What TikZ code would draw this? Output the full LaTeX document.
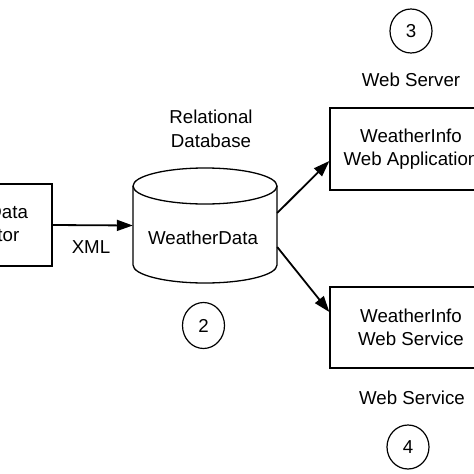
\documentclass[tikz,border=0pt]{standalone}
\usepackage{fontspec}
\setmainfont{Liberation Sans}
\usetikzlibrary{arrows.meta,shapes.geometric,calc}
\begin{document}
\begin{tikzpicture}[x=1pt,y=-1pt,
  every node/.style={font=\fontsize{18.7}{23.5}\selectfont, align=center},
  boxnode/.style={draw, line width=1.3pt, minimum width=162pt, minimum height=82pt, inner sep=0pt},
  numcirc/.style={draw, ellipse, line width=1.2pt, minimum width=42pt, minimum height=44pt, inner sep=0pt},
  conn/.style={line width=1.8pt, -{Triangle[length=16pt,width=11pt]}},
  plain/.style={inner sep=0pt}]
\useasboundingbox (0,0) rectangle (474,474);
\clip (0,0) rectangle (474,474);
% left box
\node[boxnode, minimum width=158pt] (src) at (-27,225) {WeatherData\\Aggregator};
% database cylinder
\node[minimum width=144pt, minimum height=115pt, inner sep=0pt] (db) at (205,225.5) {};
\draw[line width=1.3pt] (133,186) -- (133,265) arc[start angle=180, end angle=360, x radius=72pt, y radius=18pt]
  -- (277,186) arc[start angle=0, end angle=180, x radius=72pt, y radius=18pt] -- cycle;
\draw[line width=1.3pt] (133,186) arc[start angle=180, end angle=360, x radius=72pt, y radius=18pt];
\node[plain] (dbtext) at (203,238) {WeatherData};
\node[plain] (dblabel) at (211,129) {Relational\\Database};
% right boxes
\node[boxnode] (app) at (411,149) {WeatherInfo\\Web Application};
\node[boxnode, minimum height=81pt] (svc) at (411,327.5) {WeatherInfo\\Web Service};
\node[plain] (applabel) at (411,80) {Web Server};
\node[plain] (svclabel) at (412,398) {Web Service};
% numbered circles
\node[numcirc] (c3) at (411,31) {3};
\node[numcirc, minimum height=46pt] (c2) at (203.5,325.5) {2};
\node[numcirc] (c4) at (408,447) {4};
% connectors
\draw[conn] (src.east) -- (db.west);
\node[plain] (xml) at (91,247) {XML};
\draw[conn] ($(db.east)+(0,-12.5)$) -- ($(app.west)+(0,12)$);
\draw[conn] ($(db.east)+(0,21.5)$) -- ($(svc.west)+(0,-15.5)$);
\end{tikzpicture}
\end{document}
